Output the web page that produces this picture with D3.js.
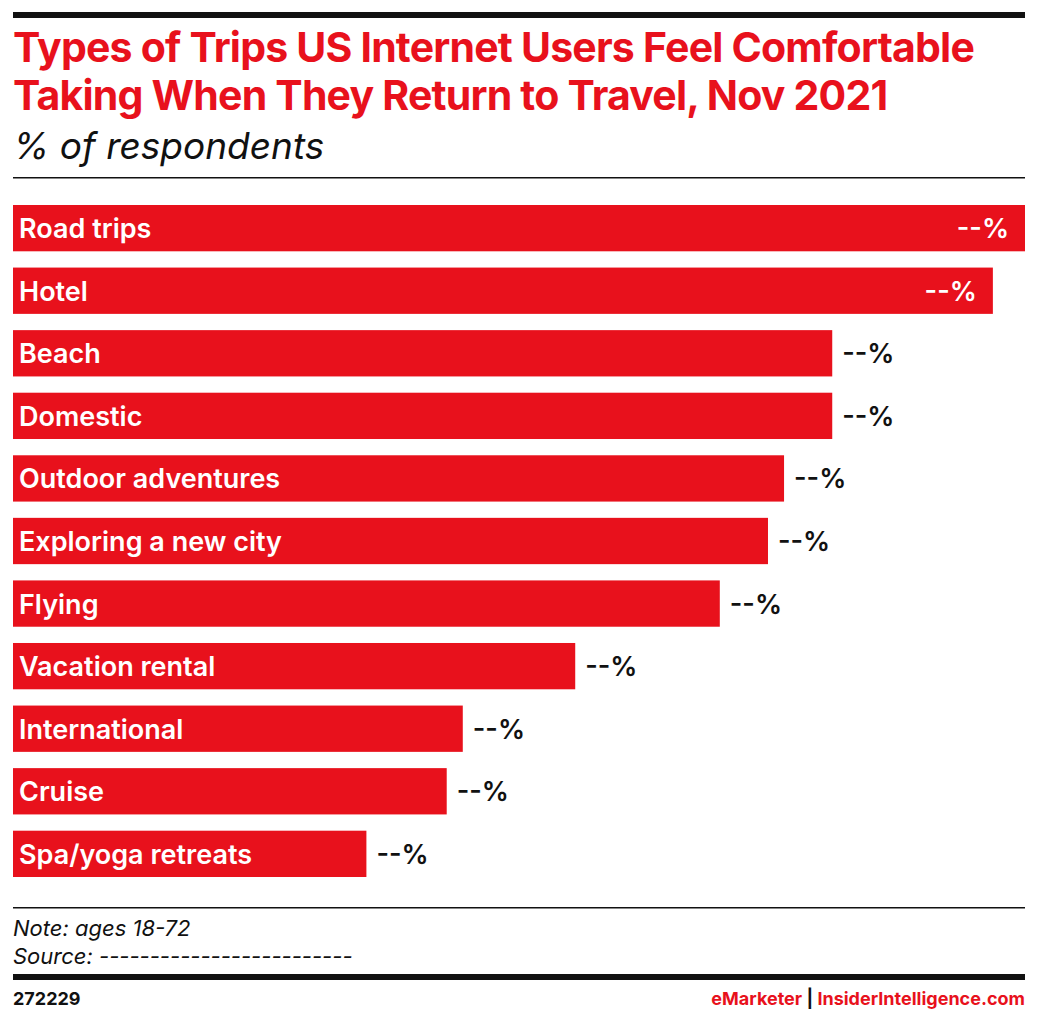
<!DOCTYPE html><html><head><meta charset="utf-8"><script src="https://cdn.jsdelivr.net/npm/d3@7"></script>
<style>body{margin:0;background:#fff}svg{font-family:Inter,"Noto Sans",sans-serif}</style></head><body><svg id="c" width="1038" height="1023"></svg>
<script>
const categories=["Road trips","Hotel","Beach","Domestic","Outdoor adventures","Exploring a new city","Flying","Vacation rental","International","Cruise","Spa/yoga retreats"];
const values=[63,61,51,51,48,47,44,35,28,27,22];
const valueLabels=["--%","--%","--%","--%","--%","--%","--%","--%","--%","--%","--%"];
const svg=d3.select("#c"),red="#e8111c";
svg.append("rect").attr("x",13).attr("y",12).attr("width",1012).attr("height",6).attr("fill","#111");
svg.append("text").attr("x",13).attr("y",62).attr("fill",red).attr("font-size",41).attr("font-weight",700).attr("letter-spacing",-0.8).text("Types of Trips US Internet Users Feel Comfortable");
svg.append("text").attr("x",13).attr("y",110).attr("fill",red).attr("font-size",41).attr("font-weight",700).attr("letter-spacing",-0.8).text("Taking When They Return to Travel, Nov 2021");
svg.append("text").attr("x",13).attr("y",159).attr("fill","#111").attr("font-size",37).attr("font-style","italic").text("% of respondents");
svg.append("rect").attr("x",13).attr("y",177).attr("width",1012).attr("height",1.5).attr("fill","#111");
const x=d3.scaleLinear().domain([0,63]).range([13,1025]);
const y=d3.scaleBand().domain(categories).range([205,877]).paddingInner(0.26).paddingOuter(0);
const g=svg.selectAll("g.b").data(categories).enter().append("g");
g.append("rect").attr("x",x(0)).attr("y",d=>y(d)).attr("width",(d,i)=>x(values[i])-x(0)).attr("height",y.bandwidth()).attr("fill",red);
g.append("text").attr("x",19).attr("y",d=>y(d)+y.bandwidth()/2+10).attr("fill","#fff").attr("font-size",27).attr("font-weight",600).text(d=>d);
g.append("text").attr("x",(d,i)=>i<2?x(values[i])-16:x(values[i])+10).attr("text-anchor",(d,i)=>i<2?"end":"start")
 .attr("y",d=>y(d)+y.bandwidth()/2+10).attr("fill",(d,i)=>i<2?"#fff":"#111").attr("font-size",27).attr("font-weight",600).text((d,i)=>valueLabels[i]);
svg.append("rect").attr("x",13).attr("y",907).attr("width",1012).attr("height",1.5).attr("fill","#111");
svg.append("text").attr("x",13).attr("y",936).attr("font-size",22).attr("font-style","italic").attr("fill","#111").text("Note: ages 18-72");
svg.append("text").attr("x",13).attr("y",964).attr("font-size",22).attr("font-style","italic").attr("fill","#111").text("Source: -------------------------");
svg.append("rect").attr("x",13).attr("y",974).attr("width",1012).attr("height",6).attr("fill","#111");
svg.append("text").attr("x",13).attr("y",1005).attr("font-size",18).attr("font-weight",700).attr("fill","#111").text("272229");
const f=svg.append("text").attr("x",1025).attr("y",1005).attr("text-anchor","end").attr("font-size",18).attr("font-weight",700);
f.append("tspan").attr("fill",red).text("eMarketer");
f.append("tspan").attr("fill","#111").text("  |  ");
f.append("tspan").attr("fill",red).text("InsiderIntelligence.com");
</script></body></html>
